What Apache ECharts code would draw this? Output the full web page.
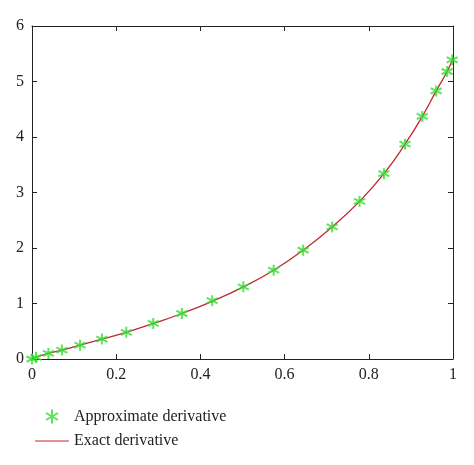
<!DOCTYPE html><html><head><meta charset="utf-8">
<script src="https://cdn.jsdelivr.net/npm/echarts@6/dist/echarts.min.js"></script>
<style>html,body{margin:0;background:#fff}#c{width:474px;height:465px}</style></head><body><div id="c"></div>
<script>
const xs=[0,0.0095,0.039,0.071,0.114,0.166,0.224,0.288,0.356,0.428,0.502,0.574,0.644,0.713,0.778,0.836,0.886,0.927,0.960,0.986,0.998];
const approx=[0,0.03,0.10,0.16,0.25,0.36,0.48,0.64,0.82,1.05,1.30,1.60,1.96,2.38,2.84,3.34,3.87,4.37,4.83,5.18,5.39];
const exactX=[0,0.0095,0.039,0.071,0.114,0.166,0.224,0.288,0.356,0.428,0.502,0.574,0.644,0.713,0.778,0.836,0.886,0.927,0.960,0.986,1.0];
const exact=[0,0.03,0.10,0.16,0.25,0.36,0.48,0.64,0.82,1.04,1.30,1.60,1.96,2.38,2.84,3.34,3.87,4.37,4.83,5.18,5.42];
const star='path://M0,-10L0,10M-8.66,-5L8.66,5M-8.66,5L8.66,-5';
const font='Liberation Serif';
function ax(extra){return Object.assign({type:'value',min:0,axisLine:{show:true,onZero:false,lineStyle:{color:'#222',width:1}},axisTick:{show:true,inside:true,length:5,lineStyle:{color:'#222'}},splitLine:{show:false},axisLabel:{color:'#222',fontFamily:font,fontSize:16}},extra);}
const ch=echarts.init(document.getElementById('c'));
ch.setOption({animation:false,
grid:{left:32,right:21,top:26,bottom:106},
xAxis:[ax({max:1,interval:0.2,position:'bottom'}),ax({max:1,interval:0.2,position:'top',axisLabel:{show:false}})],
yAxis:[ax({max:6,interval:1,position:'left'}),ax({max:6,interval:1,position:'right',axisLabel:{show:false}})],
legend:{orient:'vertical',left:30,top:402,itemGap:7,itemWidth:34,itemHeight:14,textStyle:{fontFamily:font,fontSize:16,color:'#222'},
 data:[{name:'Approximate derivative',icon:star,itemStyle:{color:'none',borderColor:'#33dd33',borderWidth:2}},{name:'Exact derivative',icon:'path://M0,0L40,0L40,1L0,1Z',itemHeight:1.5}]},
series:[
{name:'Exact derivative',type:'line',smooth:true,showSymbol:false,data:exactX.map((x,i)=>[x,exact[i]]),lineStyle:{color:'#c0282d',width:1.3},itemStyle:{color:'#c0282d'},z:2},
{name:'Approximate derivative',type:'scatter',symbol:star,symbolSize:11,data:xs.map((x,i)=>[x,approx[i]]),itemStyle:{color:'none',borderColor:'#33dd33',borderWidth:2},z:3}
]});
</script></body></html>
